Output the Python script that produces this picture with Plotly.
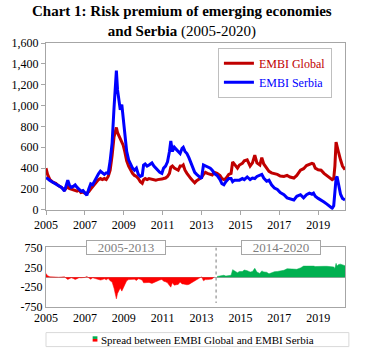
import plotly.graph_objects as go

# Dates (decimal years) and spreads in basis points
dates = [2005.00, 2005.08, 2005.2, 2005.35, 2005.5, 2005.65, 2005.8, 2005.95, 2006.05, 2006.12,
         2006.2, 2006.3, 2006.4, 2006.5, 2006.6, 2006.7, 2006.8, 2006.9, 2007.0, 2007.1,
         2007.2, 2007.3, 2007.4, 2007.5, 2007.6, 2007.7, 2007.8, 2007.9, 2008.0, 2008.1,
         2008.2, 2008.3, 2008.4, 2008.5, 2008.58, 2008.62, 2008.68, 2008.75, 2008.82, 2008.9,
         2008.97, 2009.05, 2009.15, 2009.25, 2009.35, 2009.45, 2009.55, 2009.65, 2009.75, 2009.85,
         2009.95, 2010.02, 2010.1, 2010.2, 2010.3, 2010.45, 2010.55, 2010.65, 2010.75, 2010.85,
         2010.96, 2011.05, 2011.15, 2011.25, 2011.35, 2011.42, 2011.5, 2011.6, 2011.7, 2011.8,
         2011.9, 2012.0, 2012.06, 2012.15, 2012.25, 2012.35, 2012.45, 2012.55, 2012.65, 2012.75,
         2012.9, 2013.0, 2013.1, 2013.2, 2013.3, 2013.45, 2013.55, 2013.65, 2013.8, 2013.95,
         2014.05, 2014.15, 2014.25, 2014.4, 2014.52, 2014.6, 2014.7, 2014.85, 2014.95, 2015.1,
         2015.2, 2015.35, 2015.5, 2015.62, 2015.74, 2015.85, 2016.0, 2016.1, 2016.2, 2016.35,
         2016.47, 2016.6, 2016.75, 2016.9, 2017.05, 2017.24, 2017.4, 2017.55, 2017.75, 2017.9,
         2018.09, 2018.25, 2018.4, 2018.55, 2018.68, 2018.76, 2018.85, 2019.0, 2019.15, 2019.3,
         2019.45, 2019.61, 2019.72, 2019.8, 2019.86, 2019.92, 2019.97, 2020.05, 2020.15, 2020.25,
         2020.38]

embi_global = [400, 340, 290, 265, 255, 230, 215, 190, 210, 230,
               205, 200, 195, 185, 180, 190, 165, 170, 160, 160,
               175, 200, 225, 250, 270, 290, 300, 290, 300, 290,
               320, 380, 520, 700, 760, 790, 740, 710, 690, 660,
               620, 560, 470, 420, 380, 350, 330, 320, 300, 270,
               255, 290, 300, 290, 300, 295, 290, 285, 290, 290,
               295, 300, 305, 320, 350, 410, 420, 400, 390, 380,
               420, 420, 430, 380, 350, 320, 300, 280, 260, 280,
               300, 310, 340, 360, 350, 345, 335, 360, 350, 330,
               300, 290, 300, 340, 350, 460, 440, 400, 430, 445,
               470, 480, 420, 450, 525, 450, 430, 500, 440, 400,
               370, 355, 350, 340, 325, 320, 330, 315, 305, 330,
               380, 395, 425, 440, 445, 440, 400, 385, 380, 350,
               330, 305, 290, 300, 420, 650, 600, 550, 480, 420,
               385]

embi_serbia = [305, 300, 280, 265, 250, 230, 215, 180, 240, 285,
               240, 215, 225, 240, 215, 200, 180, 185, 165, 140,
               200, 250, 240, 280, 320, 345, 370, 350, 340, 355,
               350, 470, 640, 980, 1300, 1335, 1150, 1060, 960, 1010,
               900, 720, 560, 480, 440, 400, 380, 400, 340, 320,
               330, 430, 440, 420, 430, 450, 420, 400, 370, 360,
               350, 400, 420, 460, 560, 660, 560, 600, 580, 560,
               540, 590, 600, 560, 540, 500, 450, 390, 360, 340,
               320, 300, 430, 420, 410, 400, 380, 350, 330, 290,
               250, 240, 270, 300, 300, 270, 285, 285, 285, 300,
               290, 315, 290, 305, 300, 320, 335, 340, 305, 275,
               285, 240, 210, 195, 165, 145, 115, 105, 95, 130,
               145, 115, 145, 160, 150, 160, 130, 110, 95, 75,
               55, 35, 15, 40, 200, 300, 320, 230, 150, 110,
               95]

period_break = 2013.75
x_ticks = [2005, 2007, 2009, 2011, 2013, 2015, 2017, 2019]
y1_ticks = [0, 200, 400, 600, 800, 1000, 1200, 1400, 1600]
y2_ticks = [-750, -250, 250, 750]
y2_labels = ["-750", "-250", "250", "750"]

spread = [g - s for g, s in zip(embi_global, embi_serbia)]
d1 = [d for d in dates if d < period_break]
s1 = [v for d, v in zip(dates, spread) if d < period_break]
d2 = [d for d in dates if d >= period_break]
s2 = [v for d, v in zip(dates, spread) if d >= period_break]

RED = "#C00000"
BLUE = "#0000FF"
GRAY = "#A6A6A6"
FONT = "'Liberation Serif', 'Times New Roman', Times, serif"

fig = go.Figure()
fig.add_trace(go.Scatter(x=dates, y=embi_global, mode="lines",
                         line=dict(color=RED, width=3),
                         name="<span style='color:#C00000'>EMBI Global</span>",
                         xaxis="x", yaxis="y"))
fig.add_trace(go.Scatter(x=dates, y=embi_serbia, mode="lines",
                         line=dict(color=BLUE, width=3),
                         name="<span style='color:#0000FF'>EMBI Serbia</span>",
                         xaxis="x", yaxis="y"))
fig.add_trace(go.Scatter(x=d1, y=s1, mode="lines", fill="tozeroy",
                         line=dict(color="#FF0000", width=0.5), fillcolor="#FF0000",
                         showlegend=False, xaxis="x2", yaxis="y2"))
fig.add_trace(go.Scatter(x=d2, y=s2, mode="lines", fill="tozeroy",
                         line=dict(color="#00B050", width=0.5), fillcolor="#00B050",
                         showlegend=False, xaxis="x2", yaxis="y2"))

xrange = [2005, 2020.38]
axis_font = dict(family=FONT, size=12, color="black")

fig.update_layout(
    width=372, height=350,
    margin=dict(l=43, r=27, t=43, b=43),
    paper_bgcolor="white", plot_bgcolor="white",
    font=dict(family=FONT, size=12, color="black"),
    showlegend=True,
    legend=dict(x=0.575, y=0.982, xanchor="left", yanchor="top",
                bordercolor="#BFBFBF", borderwidth=1, bgcolor="white",
                font=dict(family=FONT, size=12), tracegroupgap=0,
                itemwidth=30),
    xaxis=dict(domain=[0, 1], range=xrange, anchor="y", tickvals=x_ticks,
               ticks="outside", ticklen=4, tickcolor=GRAY,
               showline=True, linecolor=GRAY, mirror=True, showgrid=False,
               zeroline=False, tickfont=axis_font),
    yaxis=dict(domain=[0.368, 1], range=[0, 1600], tickvals=y1_ticks, tickformat=",d",
               ticks="outside", ticklen=4, tickcolor=GRAY,
               showline=True, linecolor=GRAY, mirror=True, showgrid=False,
               zeroline=False, tickfont=axis_font),
    xaxis2=dict(domain=[0, 1], range=xrange, anchor="y2", tickvals=x_ticks,
                ticks="", showline=True, linecolor=GRAY, mirror=True,
                showgrid=False, zeroline=False, tickfont=axis_font),
    yaxis2=dict(domain=[0, 0.2255], range=[-750, 750], tickvals=y2_ticks,
                ticktext=y2_labels, ticks="", showline=True, linecolor=GRAY,
                mirror=True, showgrid=False, zeroline=True, zerolinecolor=GRAY,
                zerolinewidth=1, tickfont=axis_font),
)

# Title (two lines)
fig.add_annotation(text="<b>Chart 1: Risk premium of emerging economies</b><br>"
                        "<b>and Serbia</b> (2005-2020)",
                   xref="paper", yref="paper", x=0.455, y=1.080, xanchor="center",
                   yanchor="middle", showarrow=False, align="center",
                   font=dict(family=FONT, size=15, color="black"))

# Period labels on the spread panel
fig.add_annotation(text="2005-2013", x=2009.12, y=750, xref="x2", yref="y2",
                   showarrow=False, bgcolor="white", bordercolor=GRAY, borderwidth=1,
                   width=76, height=11, borderpad=1,
                   font=dict(family=FONT, size=13, color="#7F7F7F"))
fig.add_annotation(text="2014-2020", x=2017.09, y=750, xref="x2", yref="y2",
                   showarrow=False, bgcolor="white", bordercolor=GRAY, borderwidth=1,
                   width=76, height=11, borderpad=1,
                   font=dict(family=FONT, size=13, color="#7F7F7F"))
fig.add_shape(type="line", x0=period_break, x1=period_break, y0=750, y1=-650,
              xref="x2", yref="y2", line=dict(color=GRAY, width=1.5, dash="dot"))

# Bottom legend box
fig.add_shape(type="rect", xref="paper", yref="paper", x0=0.0, x1=1.013,
              y0=-0.150, y1=-0.097, line=dict(color="#D9D9D9", width=1),
              fillcolor="white")
fig.add_shape(type="rect", xref="paper", yref="paper", x0=0.156, x1=0.172,
              y0=-0.121, y1=-0.111, line=dict(width=0), fillcolor="#00B050")
fig.add_shape(type="rect", xref="paper", yref="paper", x0=0.156, x1=0.172,
              y0=-0.131, y1=-0.121, line=dict(width=0), fillcolor="#FF0000")
fig.add_annotation(text="Spread between EMBI Global and EMBI Serbia",
                   xref="paper", yref="paper", x=0.178, y=-0.1235, xanchor="left",
                   yanchor="middle", showarrow=False,
                   font=dict(family=FONT, size=11, color="black"))

fig.write_html("out.html")
